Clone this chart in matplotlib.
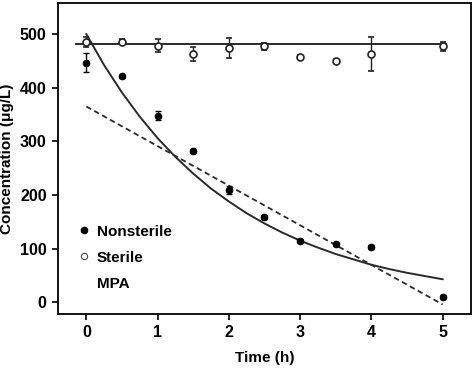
import numpy as np
import matplotlib
matplotlib.use("Agg")
import matplotlib.pyplot as plt
from matplotlib.lines import Line2D

plt.rcParams['font.family'] = ['Liberation Sans', 'DejaVu Sans']
plt.rcParams['font.weight'] = 'bold'

# sampling times (h)
time = [0, 0.5, 1, 1.5, 2, 2.5, 3, 3.5, 4, 5]

# MPA concentration (ug/L), nonsterile
nonsterile = [447, 421, 348, 282, 209, 159, 115, 108, 103, 10]
nonsterile_err = [18, 3, 8, 3, 8, 3, 3, 3, 3, 3]

# sterile control
sterile = [485, 486, 478, 462, 474, 477, 458, 450, 463, 477]
sterile_err = [10, 5, 12, 13, 19, 6, 3, 3, 31, 8]

# fitted lines
sterile_fit_t = [-0.15, 5.05]
sterile_fit_c = [481, 481]

exp_fit_t = [0, 0.25, 0.5, 0.75, 1, 1.25, 1.5, 1.75, 2, 2.25, 2.5,
             2.75, 3, 3.25, 3.5, 3.75, 4, 4.25, 4.5, 4.75, 5]
exp_fit_c = [500, 442, 391, 346, 306, 271, 240, 212, 188, 166, 147,
             130, 115, 102, 90, 80, 70, 62, 55, 49, 43]

lin_fit_t = [0, 5]
lin_fit_c = [365, -4]

fig = plt.figure(figsize=(4.74, 3.70), dpi=100)
ax = fig.add_axes([0.122, 0.151, 0.872, 0.841])

line_col = '#2a2a2a'
ax.plot(sterile_fit_t, sterile_fit_c, '-', color=line_col, lw=1.4, zorder=2)
ax.plot(exp_fit_t, exp_fit_c, '-', color=line_col, lw=1.4, zorder=2)
ax.plot(lin_fit_t, lin_fit_c, '--', color=line_col, lw=1.3, dashes=(3, 2), zorder=2)

ax.errorbar(time, sterile, yerr=sterile_err, fmt='o', ms=5, mfc='white',
            mec='#222222', mew=1.2, ecolor='#222222', elinewidth=1.0,
            capsize=2.5, capthick=1.0, zorder=3)
ax.errorbar(time, nonsterile, yerr=nonsterile_err, fmt='o', ms=4.5, mfc='black',
            mec='black', ecolor='black', elinewidth=1.0,
            capsize=2.5, capthick=1.0, zorder=4)

ax.set_xlim(-0.4, 5.4)
ax.set_ylim(-22, 558)
ax.set_xticks([0, 1, 2, 3, 4, 5])
ax.set_yticks([0, 100, 200, 300, 400, 500])
ax.tick_params(direction='out', length=4, width=1.2, labelsize=11.5, pad=4)
for s in ax.spines.values():
    s.set_linewidth(1.3)

ax.set_xlabel('Time (h)', fontsize=11, fontweight='bold', labelpad=8)
ax.set_ylabel('Concentration (μg/L)', fontsize=11, fontweight='bold', labelpad=4)

handles = [
    Line2D([], [], ls='none', marker='o', ms=4.5, mfc='black', mec='black'),
    Line2D([], [], ls='none', marker='o', ms=4.5, mfc='white', mec='#444444', mew=0.8),
    Line2D([], [], ls='none', marker=''),
]
ax.legend(handles, ['Nonsterile', 'Sterile', 'MPA'], loc='lower left',
          bbox_to_anchor=(0.02, 0.03), frameon=False,
          handlelength=0.6, handletextpad=0.5, labelspacing=0.8,
          prop={'weight': 'bold', 'size': 11})

fig.savefig('out.png', dpi=100)
